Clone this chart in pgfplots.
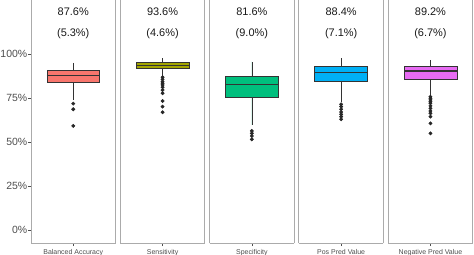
\documentclass[border=0pt]{standalone}
\usepackage{fontspec}
\setmainfont{Liberation Sans}
\usepackage{pgfplots}
\pgfplotsset{compat=1.18}
\usepgfplotslibrary{statistics}

\definecolor{c1}{HTML}{F8766D}
\definecolor{c2}{HTML}{A3A500}
\definecolor{c3}{HTML}{00BF7D}
\definecolor{c4}{HTML}{00B0F6}
\definecolor{c5}{HTML}{E76BF3}
\definecolor{panelframe}{HTML}{ABABAB}
\definecolor{ticktext}{HTML}{4D4D4D}
\definecolor{boxline}{HTML}{333333}

\tikzset{stat/.style={font=\fontsize{11}{13}\selectfont, text=black!90}}

\pgfplotsset{
  panel/.style={
    scale only axis, width=84.5bp, height=243.3bp,
    anchor=south west,
    xmin=0.4, xmax=1.6, ymin=-7.6, ymax=130.7,
    axis x line*=bottom, axis y line*=box,
    axis line style={panelframe, line width=1bp},
    xtick={1}, xticklabels={#1},
    xticklabel style={font=\fontsize{7}{8}\selectfont, text=ticktext},
    tick align=outside, major tick length=2.8bp,
    every tick/.style={ticktext, line width=0.6bp},
    ytick=\empty,
    clip=false,
  },
  boxstyle/.style={
    draw=boxline, line width=0.6bp, fill=#1,
    mark=*, mark size=1.6bp, mark options={fill=black!85, draw=black!85},
    boxplot/draw direction=y,
    boxplot/whisker extend=0,
    boxplot/every median/.style={line width=1.4bp},
  },
}

\begin{document}
\begin{tikzpicture}
\useasboundingbox (0,0) rectangle (474bp,255bp);

% Balanced Accuracy
\begin{axis}[panel={Balanced Accuracy}, at={(31bp,11.7bp)},
  ytick={0,25,50,75,100}, yticklabels={0\%,25\%,50\%,75\%,100\%}, ytick pos=left,
  yticklabel style={font=\fontsize{10.5}{12}\selectfont, text=ticktext, inner sep=0.8bp}]
\addplot[boxstyle=c1, boxplot prepared={draw position=1, box extend=0.75,
  lower whisker=73.9, lower quartile=83.7, median=87.7,
  upper quartile=90.9, upper whisker=95.1}]
  table[row sep=\\, y index=0] {value\\ 71.8\\ 68.6\\ 59.1\\};
\node[stat] at (axis cs:1,124) {87.6\%};
\node[stat] at (axis cs:1,111.6) {(5.3\%)};
\end{axis}

% Sensitivity
\begin{axis}[panel={Sensitivity}, at={(120.3bp,11.7bp)}]
\addplot[boxstyle=c2, boxplot prepared={draw position=1, box extend=0.75,
  lower whisker=87.5, lower quartile=91.9, median=93.6,
  upper quartile=95.1, upper whisker=97.5}]
  table[row sep=\\, y index=0] {value\\ 86.8\\ 85.6\\ 84.3\\ 83.4\\ 82.4\\ 81.1\\ 79.5\\ 77.7\\ 73.3\\ 70.1\\ 66.9\\};
\node[stat] at (axis cs:1,124) {93.6\%};
\node[stat] at (axis cs:1,111.6) {(4.6\%)};
\end{axis}

% Specificity
\begin{axis}[panel={Specificity}, at={(209.6bp,11.7bp)}]
\addplot[boxstyle=c3, boxplot prepared={draw position=1, box extend=0.75,
  lower whisker=59.7, lower quartile=75.4, median=82.8,
  upper quartile=87.5, upper whisker=95.6}]
  table[row sep=\\, y index=0] {value\\ 56.3\\ 54.9\\ 53.4\\ 51.5\\};
\node[stat] at (axis cs:1,124) {81.6\%};
\node[stat] at (axis cs:1,111.6) {(9.0\%)};
\end{axis}

% Pos Pred Value
\begin{axis}[panel={Pos Pred Value}, at={(298.9bp,11.7bp)}]
\addplot[boxstyle=c4, boxplot prepared={draw position=1, box extend=0.75,
  lower whisker=72.9, lower quartile=84.3, median=89.4,
  upper quartile=92.8, upper whisker=97.5}]
  table[row sep=\\, y index=0] {value\\ 71.4\\ 70.1\\ 68.6\\ 67.0\\ 65.7\\ 64.4\\ 62.9\\};
\node[stat] at (axis cs:1,124) {88.4\%};
\node[stat] at (axis cs:1,111.6) {(7.1\%)};
\end{axis}

% Negative Pred Value
\begin{axis}[panel={Negative Pred Value}, at={(388.2bp,11.7bp)}]
\addplot[boxstyle=c5, boxplot prepared={draw position=1, box extend=0.75,
  lower whisker=76.7, lower quartile=85.8, median=90.3,
  upper quartile=92.8, upper whisker=96.6}]
  table[row sep=\\, y index=0] {value\\ 75.7\\ 74.8\\ 73.9\\ 72.9\\ 72.0\\ 70.5\\ 69.1\\ 67.6\\ 66.3\\ 64.4\\ 60.6\\ 54.9\\};
\node[stat] at (axis cs:1,124) {89.2\%};
\node[stat] at (axis cs:1,111.6) {(6.7\%)};
\end{axis}
\end{tikzpicture}
\end{document}
